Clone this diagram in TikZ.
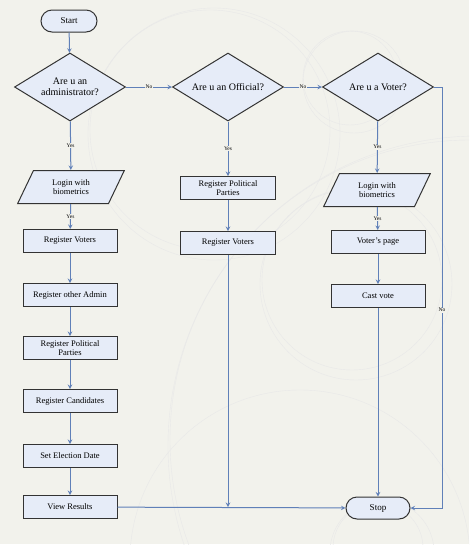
\documentclass[tikz,border=0pt]{standalone}
\usepackage{fontspec}
\setmainfont{Liberation Serif}
\usetikzlibrary{shapes.geometric}

\definecolor{bgcol}{RGB}{242,242,236}
\definecolor{boxfill}{RGB}{230,236,248}
\definecolor{linecol}{RGB}{96,128,184}

\begin{document}
\begin{tikzpicture}[x=1pt,y=-1pt,
    every node/.style={font=\fontsize{8.5}{9.5}\selectfont, align=center},
    terminal/.style={draw=black!80, fill=boxfill, line width=1pt, rounded corners=11pt, minimum width=56, minimum height=22, inner sep=0pt, font=\fontsize{9}{10}\selectfont},
    decision/.style={draw=black!80, fill=boxfill, line width=1pt, diamond, aspect=1.63, minimum width=111, minimum height=68, inner sep=0pt, font=\fontsize{10}{11}\selectfont},
    process/.style={draw=black!80, fill=boxfill, line width=1pt, minimum width=94, minimum height=23, inner sep=0pt},
    inout/.style={draw=black!80, fill=boxfill, line width=1pt, trapezium, trapezium left angle=63, trapezium right angle=117, trapezium stretches=true, minimum width=107, minimum height=33, inner sep=0pt},
    flow/.style={draw=linecol, line width=1pt, ->, >=stealth},
    tag/.style={fill=bgcol, inner sep=0.6pt, font=\fontsize{5.5}{5.5}\selectfont}]

    % background
    \fill[white] (0,0) rectangle (474,547);
    \fill[bgcol] (0,0) rectangle (469,544);
    \begin{scope}
        \clip (0,0) rectangle (469,544);
        \draw[black!9] (210,130) circle (120);
        \draw[black!9] (214,134) circle (126);
        \draw[black!9] (350,78) circle (47);
        \draw[black!9] (354,82) circle (51);
        \draw[black!9] (352,280) circle (90);
        \draw[black!9] (356,284) circle (96);
        \draw[black!9] (378,548) circle (45);
        \draw[black!9] (382,552) circle (52);
        \draw[black!9] (470,440) circle (300);
        \draw[black!9] (478,446) circle (310);
        \draw[black!9] (300,560) circle (170);
    \end{scope}

    % nodes
    \node[terminal] (start) at (69,21) {Start};
    \node[decision] (dadmin) at (70,87) {Are u an\\administrator?};
    \node[decision] (dofficial) at (228,87) {Are u an Official?};
    \node[decision] (dvoter) at (378,87) {Are u a Voter?};

    \node[inout] (loginA) at (71,187) {Login with\\biometrics};
    \node[process] (regVA) at (70,241) {Register Voters};
    \node[process] (regAdmin) at (70,295) {Register other Admin};
    \node[process] (regPPA) at (70,348) {Register Political\\Parties};
    \node[process] (regCand) at (70,401) {Register Candidates};
    \node[process] (setDate) at (70,456) {Set Election Date};
    \node[process] (viewRes) at (70,507) {View Results};

    \node[process, minimum width=95] (regPPO) at (228,188) {Register Political\\Parties};
    \node[process, minimum width=95] (regVO) at (228,243) {Register Voters};

    \node[inout] (loginV) at (377,190) {Login with\\biometrics};
    \node[process] (votersPage) at (378,242) {Voter's page};
    \node[process] (castVote) at (378,296) {Cast vote};

    \node[terminal, minimum width=64] (stop) at (378,508) {Stop};
    \coordinate (noturn) at (442,87);

    % connectors
    \draw[flow] (start) -- (dadmin);
    \draw[flow] (dadmin) -- node[tag] {Yes} (loginA);
    \draw[flow] (loginA) -- node[tag] {Yes} (regVA);
    \draw[flow] (regVA) -- (regAdmin);
    \draw[flow] (regAdmin) -- (regPPA);
    \draw[flow] (regPPA) -- (regCand);
    \draw[flow] (regCand) -- (setDate);
    \draw[flow] (setDate) -- (viewRes);
    \draw[flow] (viewRes) -- (stop);

    \draw[flow] (dadmin) -- node[tag] {No} (dofficial);
    \draw[flow] (dofficial) -- node[tag] {Yes} (regPPO);
    \draw[flow] (regPPO) -- (regVO);
    \draw[flow] (regVO) -- (regVO |- viewRes);

    \draw[flow] (dofficial) -- node[tag] {No} (dvoter);
    \draw[flow] (dvoter) -- node[tag] {Yes} (loginV);
    \draw[flow] (loginV) -- node[tag] {Yes} (votersPage);
    \draw[flow] (votersPage) -- (castVote);
    \draw[flow] (castVote) -- (stop);
    \draw[flow] (dvoter.east) -- (noturn) -- node[tag, pos=0.53] {No} (noturn |- stop) -- (stop);
\end{tikzpicture}
\end{document}
